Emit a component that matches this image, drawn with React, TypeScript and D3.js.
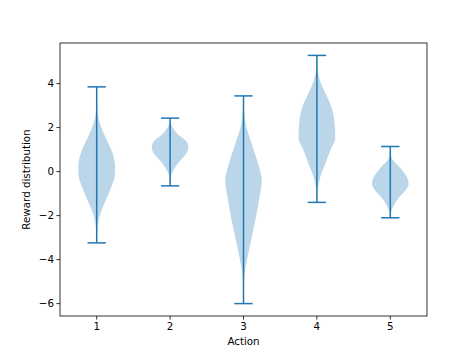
import React from "react";
import * as d3 from "d3";

const actions = [1, 2, 3, 4, 5];
const mins = [-3.24, -0.65, -6.0, -1.4, -2.1];
const maxs = [3.85, 2.43, 3.44, 5.28, 1.14];

// violin profiles: [value, relative half-width]
const profile1: [number, number][] = [
  [3.85, 0], [3.0, 0.02], [2.5, 0.08], [2.0, 0.25], [1.4, 0.57], [0.8, 0.88],
  [0.2, 1.0], [-0.2, 0.98], [-0.7, 0.8], [-1.3, 0.5], [-1.9, 0.2], [-2.4, 0.06], [-3.24, 0],
];
const profile2: [number, number][] = [
  [2.43, 0], [2.15, 0.06], [1.7, 0.42], [1.4, 0.86], [1.1, 1.0], [0.8, 0.86],
  [0.5, 0.55], [0.19, 0.27], [-0.1, 0.08], [-0.35, 0.02], [-0.65, 0],
];
const profile3: [number, number][] = [
  [3.44, 0], [2.8, 0.03], [2.16, 0.12], [1.25, 0.45], [0.34, 0.8], [-0.41, 1.0],
  [-1.17, 0.87], [-2.08, 0.68], [-2.98, 0.45], [-3.89, 0.22], [-4.5, 0.08],
  [-5.2, 0.02], [-6.0, 0],
];
const profile4: [number, number][] = [
  [5.28, 0], [4.8, 0.03], [4.27, 0.12], [3.67, 0.4], [2.91, 0.8], [2.16, 0.97],
  [1.55, 1.0], [0.95, 0.72], [0.34, 0.45], [-0.26, 0.18], [-0.8, 0.04], [-1.4, 0],
];
const profile5: [number, number][] = [
  [1.14, 0], [0.8, 0.03], [0.55, 0.12], [0.3, 0.4], [0.0, 0.7], [-0.25, 0.9],
  [-0.55, 1.0], [-0.85, 0.83], [-1.15, 0.5], [-1.45, 0.25], [-1.75, 0.08], [-2.1, 0],
];
const profiles = [profile1, profile2, profile3, profile4, profile5];

const yTicks = [-6, -4, -2, 0, 2, 4];

const W = 474;
const H = 355;
const M = { left: 60, right: 427, top: 43, bottom: 316 };
const C0 = "#1f77b4";
const FONT = "DejaVu Sans, sans-serif";

export default function App() {
  const lo = d3.min(mins)!;
  const hi = d3.max(maxs)!;
  const pad = (hi - lo) * 0.05;
  const y = d3.scaleLinear().domain([lo - pad, hi + pad]).range([M.bottom, M.top]);
  const x = d3.scaleLinear().domain([0.5, 5.5]).range([M.left, M.right]);
  const unit = x(1) - x(0);
  const halfMax = 0.25 * unit;
  const capHalf = 0.125 * unit;

  return (
    <svg
      width={W}
      height={H}
      style={{ position: "absolute", left: 0, top: 0, background: "#fff" }}
      fontFamily={FONT}
    >
      <rect x={0} y={0} width={W} height={H} fill="#fff" />
      {actions.map((a, i) => {
        const cx = x(a);
        const area = d3
          .area<[number, number]>()
          .y((d) => y(d[0]))
          .x0((d) => cx - d[1] * halfMax)
          .x1((d) => cx + d[1] * halfMax)
          .curve(d3.curveMonotoneY);
        return (
          <g key={a}>
            <path d={area(profiles[i]) || ""} fill={C0} fillOpacity={0.3} stroke="none" />
            <line x1={cx} x2={cx} y1={y(mins[i])} y2={y(maxs[i])} stroke={C0} strokeWidth={1.5} />
            <line x1={cx - capHalf} x2={cx + capHalf} y1={y(maxs[i])} y2={y(maxs[i])} stroke={C0} strokeWidth={1.5} />
            <line x1={cx - capHalf} x2={cx + capHalf} y1={y(mins[i])} y2={y(mins[i])} stroke={C0} strokeWidth={1.5} />
          </g>
        );
      })}
      <rect
        x={M.left}
        y={M.top}
        width={M.right - M.left}
        height={M.bottom - M.top}
        fill="none"
        stroke="#000"
        strokeWidth={0.8}
      />
      {yTicks.map((t) => (
        <g key={t}>
          <line x1={M.left - 3.6} x2={M.left} y1={y(t)} y2={y(t)} stroke="#000" strokeWidth={0.8} />
          <text x={M.left - 6} y={y(t)} dy="0.35em" textAnchor="end" fontSize={10.3} fill="#000">
            {t < 0 ? "\u2212" + Math.abs(t) : String(t)}
          </text>
        </g>
      ))}
      {actions.map((a) => (
        <g key={a}>
          <line x1={x(a)} x2={x(a)} y1={M.bottom} y2={M.bottom + 3.6} stroke="#000" strokeWidth={0.8} />
          <text x={x(a)} y={M.bottom + 6} dy="0.76em" textAnchor="middle" fontSize={10.3} fill="#000">
            {String(a)}
          </text>
        </g>
      ))}
      <text x={(M.left + M.right) / 2} y={345} textAnchor="middle" fontSize={10.3} fill="#000">
        Action
      </text>
      <text
        transform={`translate(30,${(M.top + M.bottom) / 2}) rotate(-90)`}
        textAnchor="middle"
        fontSize={10.3}
        fill="#000"
      >
        Reward distribution
      </text>
    </svg>
  );
}
